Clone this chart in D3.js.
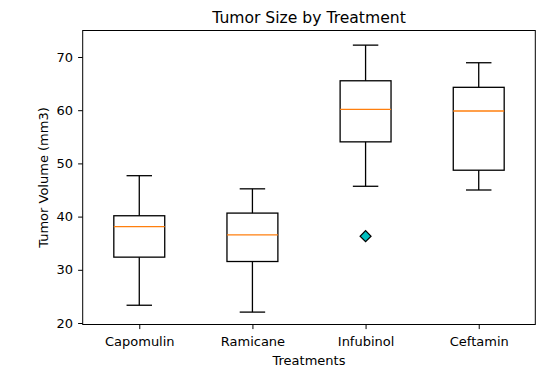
<!DOCTYPE html>
<html>
<head>
<meta charset="utf-8">
<script src="https://cdn.jsdelivr.net/npm/d3@7"></script>
<style>
  html, body { margin: 0; padding: 0; background: #fff; }
  svg { display: block; }
  text { font-family: "DejaVu Sans", sans-serif; fill: #000; }
</style>
</head>
<body>
<svg id="chart" width="552" height="374"></svg>
<script>
// ---- data ----
const treatments = ["Capomulin", "Ramicane", "Infubinol", "Ceftamin"];
const whiskerLow  = [23.34, 22.05, 45.70, 45.00];
const q1Values    = [32.38, 31.56, 54.05, 48.72];
const medianVals  = [38.13, 36.56, 60.17, 59.85];
const q3Values    = [40.16, 40.66, 65.53, 64.30];
const whiskerHigh = [47.69, 45.22, 72.23, 68.92];
const outlierTreatment = ["Infubinol"];
const outlierValues    = [36.32];
const yTicks = [20, 30, 40, 50, 60, 70];
const yDomain = [19.72, 74.98];

const titleText = "Tumor Size by Treatment";
const xLabelText = "Treatments";
const yLabelText = "Tumor Volume (mm3)";

// ---- layout ----
const svg = d3.select("#chart");
const mLeft = 82.7, mRight = 535.3, mTop = 30.5, mBottom = 324.5;

const positions = treatments.map((d, i) => i + 1);
const x = d3.scaleLinear().domain([0.5, 4.5]).range([mLeft, mRight]);
const y = d3.scaleLinear().domain(yDomain).range([mBottom, mTop]);

const boxW = 0.45;
const capW = boxW / 2;
const lw = 1.3;

const boxes = treatments.map((t, i) => ({
  name: t, pos: positions[i],
  lo: whiskerLow[i], q1: q1Values[i], med: medianVals[i], q3: q3Values[i], hi: whiskerHigh[i]
}));

const g = svg.append("g");

// whiskers
g.selectAll("line.wlo").data(boxes).enter().append("line")
  .attr("x1", d => x(d.pos)).attr("x2", d => x(d.pos))
  .attr("y1", d => y(d.q1)).attr("y2", d => y(d.lo))
  .attr("stroke", "#000").attr("stroke-width", lw);
g.selectAll("line.whi").data(boxes).enter().append("line")
  .attr("x1", d => x(d.pos)).attr("x2", d => x(d.pos))
  .attr("y1", d => y(d.q3)).attr("y2", d => y(d.hi))
  .attr("stroke", "#000").attr("stroke-width", lw);
// caps
g.selectAll("line.clo").data(boxes).enter().append("line")
  .attr("x1", d => x(d.pos - capW / 2)).attr("x2", d => x(d.pos + capW / 2))
  .attr("y1", d => y(d.lo)).attr("y2", d => y(d.lo))
  .attr("stroke", "#000").attr("stroke-width", lw);
g.selectAll("line.chi").data(boxes).enter().append("line")
  .attr("x1", d => x(d.pos - capW / 2)).attr("x2", d => x(d.pos + capW / 2))
  .attr("y1", d => y(d.hi)).attr("y2", d => y(d.hi))
  .attr("stroke", "#000").attr("stroke-width", lw);
// boxes
g.selectAll("rect.box").data(boxes).enter().append("rect")
  .attr("x", d => x(d.pos - boxW / 2))
  .attr("width", d => x(d.pos + boxW / 2) - x(d.pos - boxW / 2))
  .attr("y", d => y(d.q3))
  .attr("height", d => y(d.q1) - y(d.q3))
  .attr("fill", "none").attr("stroke", "#000").attr("stroke-width", lw);
// medians
g.selectAll("line.med").data(boxes).enter().append("line")
  .attr("x1", d => x(d.pos - boxW / 2)).attr("x2", d => x(d.pos + boxW / 2))
  .attr("y1", d => y(d.med)).attr("y2", d => y(d.med))
  .attr("stroke", "#ff7f0e").attr("stroke-width", lw);

// outliers (diamonds)
const diamond = d3.symbol().type(d3.symbolSquare).size(60);
g.selectAll("path.out").data(outlierValues).enter().append("path")
  .attr("d", diamond)
  .attr("transform", (d, i) => {
    const p = positions[treatments.indexOf(outlierTreatment[i])];
    return `translate(${x(p)},${y(d)}) rotate(45)`;
  })
  .attr("fill", "#00bfbf").attr("stroke", "#000").attr("stroke-width", 1.2);

// axes
const xAxis = d3.axisBottom(x).tickValues(positions)
  .tickFormat((d, i) => treatments[i]).tickSize(4.6).tickPadding(7.2).tickSizeOuter(0);
const yAxis = d3.axisLeft(y).tickValues(yTicks)
  .tickSize(4.6).tickPadding(5.0).tickSizeOuter(0);

const gx = svg.append("g").attr("transform", `translate(0,${mBottom})`).call(xAxis);
const gy = svg.append("g").attr("transform", `translate(${mLeft},0)`).call(yAxis);
[gx, gy].forEach(a => {
  a.select(".domain").remove();
  a.selectAll(".tick line").attr("stroke", "#000").attr("stroke-width", 1);
  a.selectAll(".tick text").attr("font-family", "DejaVu Sans").attr("font-size", 13).attr("fill", "#000");
});

// frame (spines)
svg.append("rect")
  .attr("x", mLeft).attr("y", mTop)
  .attr("width", mRight - mLeft).attr("height", mBottom - mTop)
  .attr("fill", "none").attr("stroke", "#000").attr("stroke-width", 1);

// title & labels
svg.append("text")
  .attr("x", (mLeft + mRight) / 2).attr("y", 22.5)
  .attr("text-anchor", "middle").attr("font-size", 15.6)
  .text(titleText);
svg.append("text")
  .attr("x", (mLeft + mRight) / 2).attr("y", 365)
  .attr("text-anchor", "middle").attr("font-size", 13)
  .text(xLabelText);
svg.append("text")
  .attr("transform", `translate(48,${(mTop + mBottom) / 2}) rotate(-90)`)
  .attr("text-anchor", "middle").attr("font-size", 13)
  .text(yLabelText);
</script>
</body>
</html>
